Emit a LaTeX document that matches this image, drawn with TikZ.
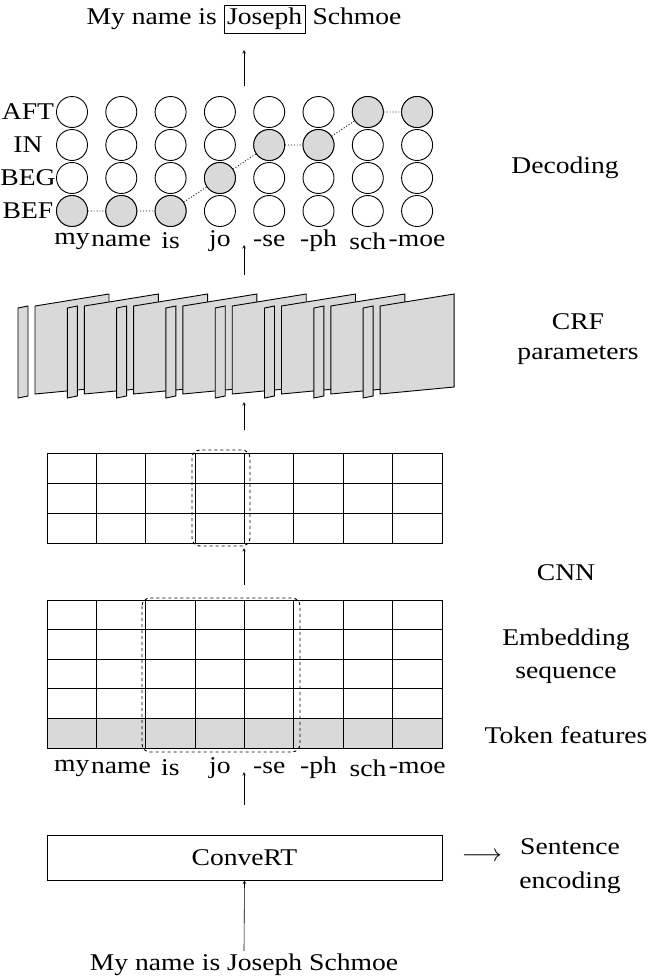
\documentclass[tikz,border=0pt]{standalone}
\usepackage{fontspec}
\setmainfont{Liberation Serif}[FakeStretch=1.15]
\begin{document}
\begin{tikzpicture}[x=1pt,y=-1pt,
  txt/.style={font=\fontsize{24}{26}\selectfont, inner sep=1pt},
  cell/.style={draw, line width=0.9pt},
  st/.style={circle, draw, line width=0.9pt, minimum size=31pt, inner sep=0pt},
  on/.style={st, fill=gray!30},
  sheet/.style={draw, line width=0.9pt, fill=gray!30, line join=miter},
  dbox/.style={draw, dashed, line width=0.9pt, rounded corners=8pt},
  arr/.style={->, >=stealth, line width=0.6pt}]
\useasboundingbox (0,0) rectangle (650,980);
% top output
\node[txt] (out) at (244,19) {My name is \fbox{Joseph} Schmoe};
\node[txt] (outj) at (265,19) {\phantom{x}};
\coordinate (a1s) at (244,86);
\draw[arr] (a1s) -- (244,50);
% decoding lattice
\foreach \r/\lab/\y in {0/AFT/112,1/IN/145,2/BEG/178,3/BEF/211}{
  \node[txt] (lab\r) at (28,\y) {\lab};
  \foreach \c in {0,...,7}{
    \node[st] (c\r\c) at ({72+49.3*\c},\y) {};
  }
}
\node[on] at (c30) {}; \node[on] at (c31) {}; \node[on] at (c32) {};
\node[on] at (c23) {}; \node[on] at (c14) {}; \node[on] at (c15) {};
\node[on] at (c06) {}; \node[on] at (c07) {};
\draw[dotted, line width=0.9pt] (c30)--(c31)--(c32)--(c23)--(c14)--(c15)--(c06)--(c07);
\foreach \w [count=\i from 0] in {my,name,is,jo,-se,-ph,sch,-moe}{
  \node[txt] (dw\i) at ({72+49.3*\i},241) {\w};
}
\node[txt] (dec) at (565,168) {Decoding};
\draw[arr] (244,275) -- (244,245);
% CRF parameters
\foreach \i in {0,...,7}{
  \pgfmathsetmacro{\xa}{18+49.3*\i}
  \pgfmathsetmacro{\xb}{35+49.3*\i}
  \draw[sheet] (\xa,308) -- ({\xa+10},306) -- ({\xa+10},396) -- (\xa,398) -- cycle;
  \draw[sheet] (\xb,306) -- ({\xb+74},294) -- ({\xb+74},387) -- (\xb,394) -- cycle;
}
\node[txt] (crf) at (578,322) {CRF};
\node[txt] (par) at (578,355) {parameters};
\draw[arr] (244,430) -- (244,402);
% CNN output grid
\foreach \c in {0,...,7}{
  \foreach \r in {0,1,2}{
    \draw[cell] ({47+49.375*\c},{453+30*\r}) rectangle ++(49.375,30);
  }
}
\draw[dbox] (192,450) rectangle (250,546);
\draw[arr] (244,585) -- (244,548);
\node[txt] (cnn) at (566,573) {CNN};
% embedding grid
\foreach \c in {0,...,7}{
  \foreach \r in {0,...,3}{
    \draw[cell] ({47+49.375*\c},{600+29.6*\r}) rectangle ++(49.375,29.6);
  }
  \draw[cell, fill=gray!30] ({47+49.375*\c},718.4) rectangle ++(49.375,29.6);
}
\draw[dbox] (142,598) rectangle (300,752);
\foreach \w [count=\i from 0] in {my,name,is,jo,-se,-ph,sch,-moe}{
  \node[txt] (ew\i) at ({71.7+49.375*\i},768) {\w};
}
\node[txt] (emb) at (566,640) {Embedding};
\node[txt] (seq) at (566,675) {sequence};
\node[txt] (tok) at (566,735) {Token features};
\draw[arr] (244,805) -- (244,772);
% ConveRT
\node[draw, line width=0.9pt, minimum width=395pt, minimum height=45pt, txt] (conv) at (244.5,857.5) {ConveRT};
\node[txt] (se1) at (570,847) {Sentence};
\node[txt] (se2) at (570,883) {encoding};
\node[txt] (rar) at (482,857) {$\longrightarrow$};
\node[txt] (inp) at (244,965) {My name is Joseph Schmoe};
\draw[arr] (inp.north) ++(0,-2) -- (conv.south);
\end{tikzpicture}
\end{document}
